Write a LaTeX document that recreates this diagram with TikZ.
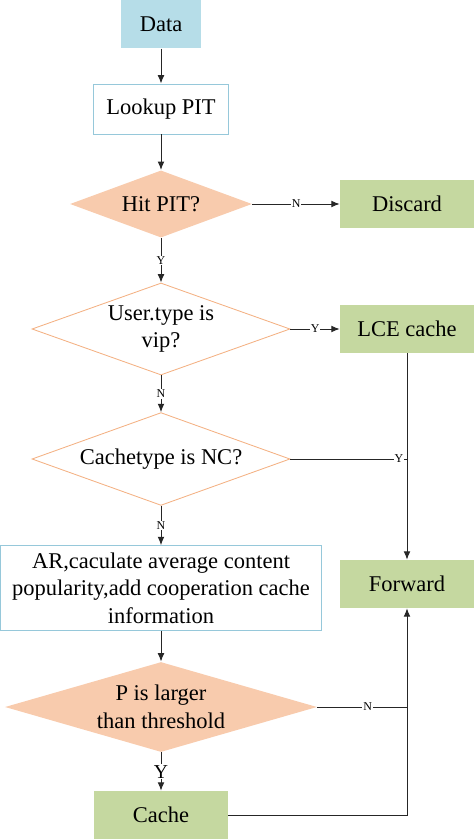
\documentclass[tikz,border=0pt]{standalone}
\usepackage{fontspec}
\setmainfont{Liberation Serif}
\usetikzlibrary{shapes.geometric,arrows.meta}
\definecolor{datablue}{RGB}{182,221,232}
\definecolor{boxline}{RGB}{150,200,218}
\definecolor{peach}{RGB}{248,203,173}
\definecolor{peachline}{RGB}{244,177,131}
\definecolor{actgreen}{RGB}{197,216,160}
\begin{document}
\begin{tikzpicture}[x=0.025cm,y=-0.025cm,>={Latex[length=2.1mm,width=1.7mm]},
  every node/.style={font=\fontsize{16}{19.5}\selectfont},
  flow/.style={draw=black!85,line width=0.7pt},
  proc/.style={draw=boxline,line width=0.6pt,fill=white,minimum height=1.25cm,align=center},
  act/.style={fill=actgreen,minimum width=3.35cm,minimum height=1.2cm},
  test/.style={diamond,inner sep=0pt,align=center,line width=0.6pt},
  yn/.style={fill=white,inner sep=0.6pt,font=\fontsize{8.5}{10}\selectfont}]
\useasboundingbox (0,0) rectangle (474,840);
\node[fill=datablue,minimum width=2cm,minimum height=1.22cm] (data) at (161,24) {Data};
\node[proc,minimum width=3.375cm] (lookup) at (161,109) {Lookup PIT};
\node[test,fill=peach,minimum width=4.55cm,minimum height=1.68cm,aspect=2.7] (hit) at (161,204) {Hit PIT?};
\node[act] (discard) at (407,204) {Discard};
\node[test,draw=peachline,fill=white,minimum width=6.45cm,minimum height=2.3cm,aspect=2.8] (vip) at (161,329) {User.type is\\vip?};
\node[act] (lce) at (407,329) {LCE cache};
\node[test,draw=peachline,fill=white,minimum width=6.45cm,minimum height=2.32cm,aspect=2.8] (nc) at (161,459) {Cachetype is NC?};
\node[proc,minimum width=8.025cm,minimum height=2.12cm,inner sep=0pt] (ar) at (161,588)
  {AR,caculate average content\\popularity,add cooperation cache\\information};
\node[act] (forward) at (407,584) {Forward};
\node[test,fill=peach,minimum width=7.8cm,minimum height=2.25cm,aspect=3.47] (thr) at (161,707) {P is larger\\than threshold};
\node[act] (cache) at (161,815) {Cache};
% connectors
\draw[flow,->] (data) -- (lookup);
\draw[flow,->] (lookup) -- (hit);
\draw[flow,->] (hit) -- node[yn] {N} (discard);
\draw[flow,->] (hit) -- node[yn] {Y} (vip);
\draw[flow,->] (vip) -- node[yn] {Y} (lce);
\draw[flow,->] (vip) -- node[yn] {N} (nc);
\draw[flow,->] (lce) -- (forward);
\draw[flow] (nc.east) -- node[yn,pos=0.93] {Y} (nc.east -| lce);
\draw[flow,->] (nc) -- node[yn] {N} (ar);
\draw[flow,->] (ar) -- (thr);
\draw[flow] (thr.east) -- node[yn,pos=0.56] {N} (thr.east -| forward);
\draw[flow,->] (thr) -- node[yn,font=\fontsize{14}{16}\selectfont] {Y} (cache);
\draw[flow,->] (cache) -| (forward);
\end{tikzpicture}
\end{document}
